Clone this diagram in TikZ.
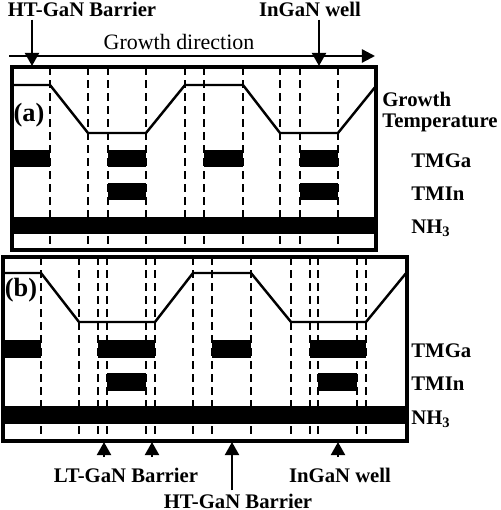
\documentclass[tikz,border=0pt]{standalone}
\usepackage{fontspec}
\setmainfont{Liberation Serif}
\usetikzlibrary{arrows.meta}

\tikzset{
  panel/.style={line width=1.9pt},
  temp/.style={line width=1.4pt, line join=miter},
  guide/.style={line width=1.4pt, dash pattern=on 4.6pt off 2.8pt},
  flow/.style={fill=black},
  lbl/.style={font=\fontsize{11.8}{13}\selectfont\bfseries, inner sep=0pt},
  tag/.style={font=\fontsize{15}{16}\selectfont\bfseries, inner sep=0pt},
  plain/.style={font=\fontsize{12.5}{14}\selectfont, inner sep=0pt},
  marker/.style={line width=1.4pt, -{Triangle[length=7.5pt,width=8pt]}},
}

\begin{document}
\begin{tikzpicture}[x=0.02cm, y=-0.02cm]
\useasboundingbox (0,0) rectangle (500,510);

% Labels on top
\node[lbl, anchor=base] (topHT) at (82,17) {HT-GaN Barrier};
\node[lbl, anchor=base] (topWell) at (310,17) {InGaN well};
\node[plain, anchor=base] (growDir) at (179,50) {Growth direction};

% Growth direction arrow
\coordinate (gdStart) at (9,56);
\coordinate (gdEnd) at (375,56);
\draw[line width=1.3pt, -{Triangle[length=7.5pt,width=7.5pt]}] (gdStart) -- (gdEnd);

% Markers into panel (a)
\coordinate (tipHT) at (32,66);
\coordinate (tipWell) at (319,66);
\draw[marker] (topHT.south -| tipHT) ++(0,2) -- (tipHT);
\draw[marker] (topWell.south -| tipWell) ++(0,2) -- (tipWell);

% Panel (a): dashed guides
\foreach \x in {50,88,108,146,185,204,243,280,300,338}
  \draw[guide] (\x,67) -- (\x,250);

% Panel (a): growth temperature
\draw[temp] (12,85) -- (50,85) -- (88,133) -- (146,133) -- (185,85)
  -- (243,85) -- (280,133) -- (338,133) -- (376,86);

% Panel (a): TMGa, TMIn and NH3 flows
\foreach \a/\b in {12/50,108/146,204/243,300/338}
  \fill[flow] (\a,150) rectangle (\b,167);
\foreach \a/\b in {108/146,300/338}
  \fill[flow] (\a,183) rectangle (\b,200);
\fill[flow] (12,217) rectangle (376,234);

\draw[panel] (12,67) rectangle (376,250);
\node[tag] (tagA) at (29,115) {(a)};

% Panel (a): side labels
\node[lbl, anchor=base west] (tempA1) at (382,107) {Growth};
\node[lbl, anchor=base west] (tempA2) at (382,127) {Temperature};
\node[lbl, anchor=base west] (gaA) at (411,167) {TMGa};
\node[lbl, anchor=base west] (inA) at (411,200) {TMIn};
\node[lbl, anchor=base west] (nhA) at (411,233) {NH\textsubscript{3}};

% Panel (b): dashed guides
\foreach \x in {41,79,98,107,146,155,193,212,251,291,310,318,357,366}
  \draw[guide] (\x,257) -- (\x,441);

% Panel (b): growth temperature
\draw[temp] (3,273) -- (41,273) -- (79,322) -- (155,322) -- (193,273)
  -- (251,273) -- (291,322) -- (366,322) -- (407,272);

% Panel (b): TMGa, TMIn and NH3 flows
\foreach \a/\b in {3/41,98/155,212/251,310/366}
  \fill[flow] (\a,340) rectangle (\b,358);
\foreach \a/\b in {107/146,318/357}
  \fill[flow] (\a,373) rectangle (\b,391);
\fill[flow] (3,406) rectangle (407,424);

\draw[panel] (3,257) rectangle (407,441);
\node[tag] (tagB) at (21,290) {(b)};

% Panel (b): side labels
\node[lbl, anchor=base west] (gaB) at (411,357) {TMGa};
\node[lbl, anchor=base west] (inB) at (411,390) {TMIn};
\node[lbl, anchor=base west] (nhB) at (411,424) {NH\textsubscript{3}};

% Labels below
\node[lbl, anchor=base] (botLT) at (126,482) {LT-GaN Barrier};
\node[lbl, anchor=base] (botWell) at (340,482) {InGaN well};
\node[lbl, anchor=base] (botHT) at (238,508) {HT-GaN Barrier};

% Markers into panel (b)
\coordinate (tipLT1) at (104,442);
\coordinate (tipLT2) at (152,442);
\coordinate (tipHTb) at (232,442);
\coordinate (tipWellb) at (338,442);
\draw[marker] (tipLT1) ++(0,15) -- (tipLT1);
\draw[marker] (tipLT2) ++(0,15) -- (tipLT2);
\draw[marker] (botHT.north -| tipHTb) ++(0,-3) -- (tipHTb);
\draw[marker] (tipWellb) ++(0,15) -- (tipWellb);
\end{tikzpicture}
\end{document}
